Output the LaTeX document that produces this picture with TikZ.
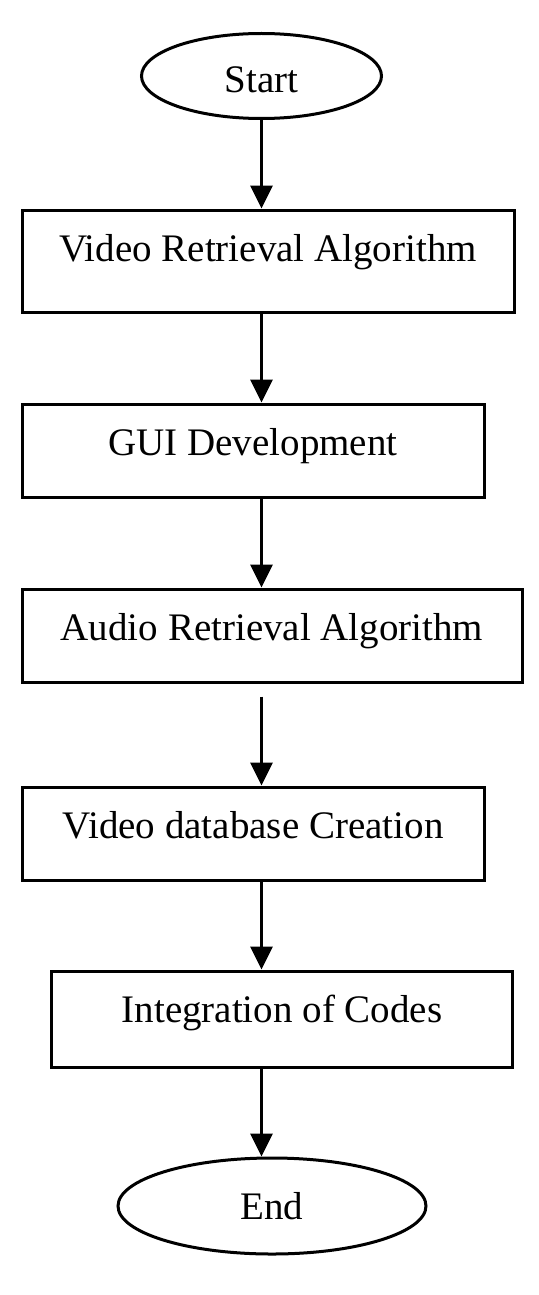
\documentclass[tikz,border=0pt]{standalone}
\usepackage{fontspec}
\setmainfont{Liberation Serif}
\usepackage{tikz}
\usetikzlibrary{shapes.geometric,arrows.meta}
\tikzstyle{terminal}=[draw=black, shape=ellipse, line width=1.5pt, inner sep=0pt, minimum width=120pt, minimum height=42.5pt]
\tikzstyle{process}=[draw=black, shape=rectangle, line width=1.5pt, inner ysep=0pt, text height=25.5pt, text depth=21pt, anchor=base]
\tikzstyle{flow}=[-{Triangle[length=11.5pt, width=11pt]}, line width=1.5pt, draw=black]

\begin{document}
\begin{tikzpicture}[x=0.5pt, y=-0.5pt, every node/.style={font=\fontsize{19.5}{23}\selectfont}]
	\useasboundingbox (0, 0) rectangle (539, 1295);
	\node [style=terminal, text height=17pt, text depth=0pt] (start) at (261.5, 76) {Start};
	\node [style=process, minimum width=246pt, text depth=25.5pt] (video) at (268, 261) {Video Retrieval Algorithm};
	\node [style=process, minimum width=231pt] (gui) at (253, 455) {GUI Development};
	\node [style=process, minimum width=250pt] (audio) at (272, 640) {Audio Retrieval Algorithm};
	\node [style=process, minimum width=231pt] (database) at (253, 838) {Video database Creation};
	\node [style=process, minimum width=230.5pt, text depth=22.5pt] (codes) at (282, 1022) {Integration of Codes};
	\node [style=terminal, minimum width=154pt, minimum height=48pt] (end) at (272, 1206) {End};
	\draw [style=flow] (start) -- (start |- video.north);
	\draw [style=flow] (start |- video.south) -- (start |- gui.north);
	\draw [style=flow] (start |- gui.south) -- (start |- audio.north);
	\draw [style=flow, shorten <=6.5pt] (start |- audio.south) -- (start |- database.north);
	\draw [style=flow] (start |- database.south) -- (start |- codes.north);
	\draw [style=flow] (start |- codes.south) -- (start |- end.north);
\end{tikzpicture}
\end{document}
